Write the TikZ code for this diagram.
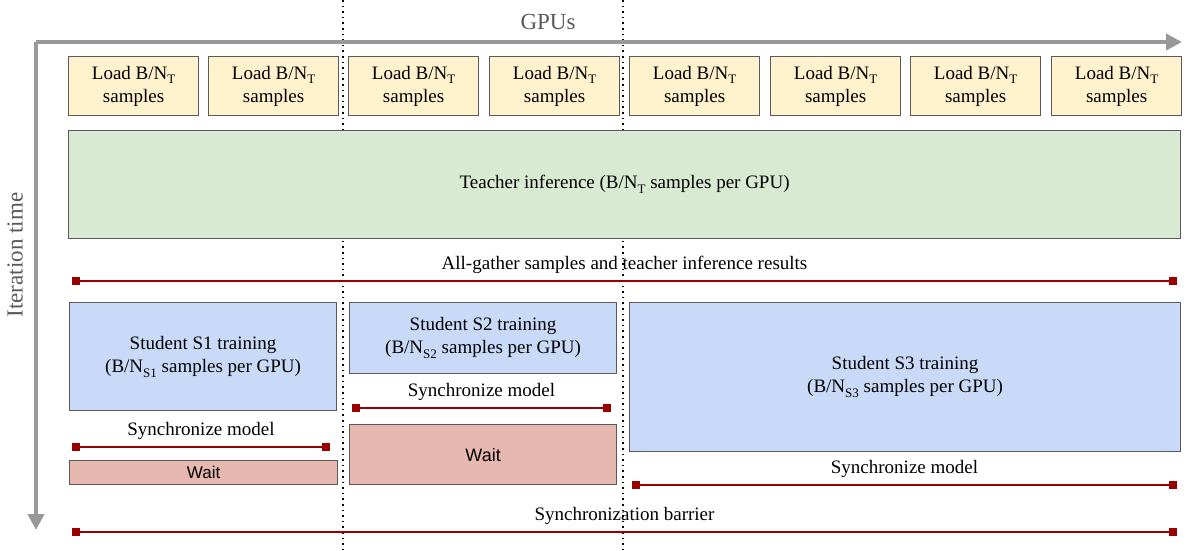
\documentclass[tikz,border=0pt]{standalone}
\usepackage{fontspec}
\setmainfont{Liberation Serif}
\newfontfamily\sansf{Liberation Sans}
\usetikzlibrary{arrows.meta}
\definecolor{ld}{HTML}{FFF2CC}
\definecolor{tc}{HTML}{D9EAD3}
\definecolor{st}{HTML}{C9DAF8}
\definecolor{wt}{HTML}{E6B8AF}
\definecolor{dr}{HTML}{990000}
\definecolor{bd}{HTML}{5A5A5A}
\newcommand{\sbs}[1]{\raisebox{-0.55ex}{\fontsize{6.5}{7}\selectfont #1}}
\begin{document}
\begin{tikzpicture}[x=0.5pt,y=-0.5pt,
 box/.style={draw=bd,line width=0.6pt,inner sep=0pt,align=center,font=\fontsize{9.5}{11.5}\selectfont},
 sync/.style={draw=dr,line width=0.8pt,{Square[length=4pt,width=4pt]}-{Square[length=4pt,width=4pt]}},
 lab/.style={font=\fontsize{9.5}{11}\selectfont},
 axis/.style={draw=gray!80,line width=2pt,-{Triangle[length=8pt,width=8pt]}}]
\useasboundingbox (0,0) rectangle (1200,551);
\draw[dotted,line width=0.8pt] (343,0) -- (343,551);
\draw[dotted,line width=0.8pt] (623,0) -- (623,551);
\coordinate (o) at (36,42); \coordinate (gx) at (1182,42); \coordinate (gy) at (36,530);
\draw[axis] (o) -- (gx);
\draw[axis] (o) -- (gy);
\node[text=gray!70!black,font=\fontsize{11.5}{13}\selectfont] (gpus) at (548,22) {GPUs};
\node[text=gray!70!black,font=\fontsize{11.5}{13}\selectfont,rotate=90] (it) at (15,255) {Iteration time};
\foreach \i/\x in {1/68,2/208,3/348,4/489,5/629,6/770,7/910,8/1051}
  \node[box,fill=ld,minimum width=65pt,minimum height=29.5pt,anchor=north west] (l\i) at (\x,56) {Load B/N\sbs{T}\\samples};
\node[box,fill=tc,minimum width=556pt,minimum height=54pt,anchor=north west] (t) at (68,130) {Teacher inference (B/N\sbs{T} samples per GPU)};
\coordinate (ag1) at (72,281); \coordinate (ag2) at (1177,281);
\draw[sync] (ag1) -- node[lab,above=0pt] (agl) {All-gather samples and teacher inference results} (ag2);
\node[box,fill=st,minimum width=133.5pt,minimum height=54pt,anchor=north west] (s1) at (69,302) {Student S1 training\\(B/N\sbs{S1} samples per GPU)};
\node[box,fill=st,minimum width=133.5pt,minimum height=35.5pt,anchor=north west] (s2) at (349,302) {Student S2 training\\(B/N\sbs{S2} samples per GPU)};
\node[box,fill=st,minimum width=275.5pt,minimum height=74.5pt,anchor=north west] (s3) at (629,302) {Student S3 training\\(B/N\sbs{S3} samples per GPU)};
\coordinate (a1) at (72,447); \coordinate (b1) at (330,447);
\draw[sync] (a1) -- node[lab,above=0pt] (sl1) {Synchronize model} (b1);
\node[box,fill=wt,minimum width=134pt,minimum height=12pt,anchor=north west,font=\sansf\fontsize{8.5}{9}\selectfont] (w1) at (69,460) {Wait};
\coordinate (a2) at (352,408); \coordinate (b2) at (611,408);
\draw[sync] (a2) -- node[lab,above=0pt] (sl2) {Synchronize model} (b2);
\node[box,fill=wt,minimum width=133.5pt,minimum height=30pt,anchor=north west,font=\sansf\fontsize{9}{10}\selectfont] (w2) at (349,424) {Wait};
\coordinate (a3) at (632,485); \coordinate (b3) at (1177,485);
\draw[sync] (a3) -- node[lab,above=0pt] (sl3) {Synchronize model} (b3);
\coordinate (a4) at (72,532); \coordinate (b4) at (1177,532);
\draw[sync] (a4) -- node[lab,above=0pt] (sl4) {Synchronization barrier} (b4);
\end{tikzpicture}
\end{document}
